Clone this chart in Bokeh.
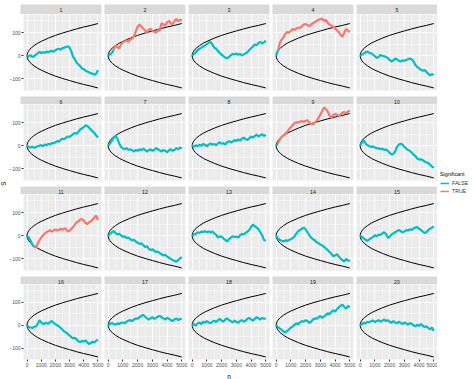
from bokeh.plotting import figure
from bokeh.layouts import row, column
from bokeh.models import Range1d, LinearAxis, Grid, FixedTicker, Legend, LegendItem
from bokeh.core.properties import value
from bokeh.embed import file_html
from bokeh.resources import INLINE
import math

# ---------------- data ----------------
panel_labels = ["1", "2", "3", "4", "5", "6", "7", "8", "9", "10",
                "11", "12", "13", "14", "15", "16", "17", "18", "19", "20"]

n_vals = list(range(0, 5001, 125))

walk_01 = [0, -3, 2, -5, -2, 5, 10, 17, 12, 15, 13, 18, 14, 20, 21, 17, 24, 28, 30, 26, 33,
           35, 38, 41, 35, 18, -5, -15, -30, -38, -45, -55, -58, -65, -68, -72, -75, -78, -82, -78, -62]
walk_02 = [0, 5, 12, 25, 45, 38, 32, 50, 58, 62, 66, 60, 70, 74, 85, 105, 125, 135, 125, 118, 110,
           102, 112, 116, 108, 104, 100, 110, 108, 140, 135, 130, 145, 150, 140, 136, 150, 158, 150, 155, 152]
walk_03 = [0, 8, 15, 25, 30, 35, 40, 45, 50, 56, 60, 48, 35, 30, 20, 12, 5, -2, -8, -12, -5,
           2, 8, 5, 10, 4, 8, 2, 5, 10, 15, 25, 32, 40, 48, 45, 55, 60, 52, 58, 65]
walk_04 = [0, 25, 55, 70, 80, 95, 102, 100, 108, 115, 112, 118, 122, 120, 128, 135, 137, 132, 128, 135, 140,
           145, 150, 155, 158, 160, 150, 155, 142, 135, 130, 125, 118, 110, 102, 90, 82, 100, 115, 108, 102]
walk_05 = [0, 5, 10, 15, 18, 12, 10, 5, -2, -10, -5, 3, 0, -2, -5, -10, -18, -25, -20, -12, -15,
           -22, -25, -20, -22, -18, -15, -12, -15, -25, -40, -48, -55, -60, -65, -62, -70, -78, -85, -80, -82]
walk_06 = [0, -5, -8, -3, -10, -5, -2, 0, 3, -2, 5, 2, 8, 5, 12, 10, 15, 20, 18, 25, 30,
           28, 35, 40, 38, 45, 50, 55, 52, 60, 70, 75, 80, 88, 85, 78, 70, 62, 55, 45, 35]
walk_07 = [0, 10, 22, 35, 42, 30, 10, -5, -12, -15, -10, -18, -15, -20, -25, -18, -22, -15, -20, -12, -18,
           -25, -20, -15, -22, -18, -10, -15, -20, -25, -18, -22, -28, -20, -15, -22, -18, -10, -15, -8, -12]
walk_08 = [0, -5, 2, -3, 5, 0, 8, 3, -2, 5, 10, 4, 8, 2, 10, 15, 8, 12, 5, 15, 20,
           14, 18, 25, 20, 28, 22, 30, 35, 28, 25, 32, 40, 35, 42, 48, 40, 45, 50, 42, 48]
walk_09 = [0, 12, 28, 38, 45, 52, 60, 72, 80, 90, 98, 102, 100, 104, 106, 103, 108, 110, 100, 95, 92,
           100, 108, 120, 135, 150, 165, 158, 148, 130, 122, 132, 138, 134, 128, 135, 142, 145, 140, 148, 152]
walk_10 = [0, 15, 22, 10, 2, -2, -5, -3, -8, -12, -10, -15, -12, -18, -16, -22, -30, -38, -35, -25, -5,
           5, 8, 5, -5, -12, -18, -22, -30, -38, -45, -55, -60, -58, -62, -68, -72, -75, -82, -90, -95]
walk_11 = [0, -8, -22, -38, -48, -50, -35, -20, -8, 2, 10, 15, 20, 24, 18, 22, 28, 22, 26, 30, 25,
           32, 28, 18, 22, 30, 38, 48, 58, 62, 70, 72, 65, 55, 50, 58, 62, 70, 78, 88, 68]
walk_12 = [0, 8, 15, 20, 12, 5, 8, 2, -5, -2, -10, -8, -15, -20, -18, -25, -30, -35, -32, -40, -48,
           -45, -55, -62, -58, -65, -70, -68, -75, -80, -85, -82, -90, -95, -100, -105, -108, -112, -105, -98, -92]
walk_13 = [0, 5, 8, 15, 12, 18, 16, 20, 15, 18, 14, 18, 10, 5, -8, -2, -5, -12, -18, -25, -15,
           -8, -2, -6, -3, -8, 2, 8, 5, 12, 18, 25, 38, 48, 42, 35, 28, 15, 2, -18, -22]
walk_14 = [0, -12, -18, -22, -25, -20, -22, -18, -15, -10, -2, 10, 20, 25, 30, 35, 28, 15, 2, -8, -15,
           -20, -28, -32, -38, -42, -48, -55, -62, -70, -78, -88, -85, -80, -90, -98, -105, -112, -100, -106, -110]
walk_15 = [0, -5, -12, -18, -22, -15, -10, -5, 2, -3, 5, 3, 10, 15, 8, -8, -5, 5, 10, 15, 20,
           25, 20, 15, 18, 25, 22, 28, 25, 32, 35, 38, 30, 25, 18, 12, 15, 25, 30, 35, 40]
walk_16 = [0, -8, -10, -12, -8, -5, 5, 22, 12, 5, 8, 10, 6, 14, 18, 10, 5, 0, -5, -12, -20,
           -28, -32, -38, -45, -52, -58, -55, -62, -70, -74, -68, -72, -66, -75, -82, -78, -72, -76, -68, -64]
walk_17 = [0, 5, 10, 5, 2, 8, 5, 10, 12, 8, 15, 20, 22, 18, 25, 30, 28, 35, 40, 45, 38,
           30, 25, 30, 35, 28, 32, 38, 40, 35, 30, 25, 32, 28, 22, 18, 25, 30, 22, 28, 25]
walk_18 = [0, 5, -2, 8, 12, 5, 15, 10, 18, 12, 8, 15, 20, 14, 22, 28, 20, 15, 25, 30, 22,
           18, 12, 20, 15, 10, 18, 22, 15, 20, 28, 32, 25, 20, 28, 35, 30, 25, 32, 28, 30]
walk_19 = [0, -8, -15, -20, -28, -32, -25, -18, -10, -5, 2, 8, 5, 12, 18, 15, 22, 18, 10, 15, 25,
           30, 28, 35, 40, 32, 38, 45, 52, 48, 58, 65, 60, 70, 78, 85, 90, 80, 72, 85, 78]
walk_20 = [0, 5, 10, 8, 15, 12, 18, 20, 14, 18, 22, 15, 20, 25, 18, 22, 15, 10, 18, 12, 8,
           15, 10, 5, 12, 8, 2, 10, 5, 0, -5, 2, -3, 5, -2, -8, -5, -12, -18, -10, -25]

walks = [walk_01, walk_02, walk_03, walk_04, walk_05, walk_06, walk_07, walk_08, walk_09, walk_10,
         walk_11, walk_12, walk_13, walk_14, walk_15, walk_16, walk_17, walk_18, walk_19, walk_20]

# index of the first point flagged Significant == TRUE (None: never)
sig_start = [None, 3, None, 1, None, None, None, None, 1, None,
             4, None, None, None, None, None, None, None, None, None]

bound_n = [0, 10, 50, 100, 200, 300, 500, 750, 1000, 1500, 2000, 2500, 3000, 3500, 4000, 4500, 5000]
bound_s = [0, 6, 14, 20, 28, 34, 44, 54, 62, 76, 88, 98, 107, 116, 124, 131, 139]
bound_lo = [-v for v in bound_s]

x_ticks = [0, 1000, 2000, 3000, 4000, 5000]
x_minor = [500, 1500, 2500, 3500, 4500]
y_ticks = [-100, 0, 100]
y_minor = [-150, -50, 50, 150]

legend_labels = ["FALSE", "TRUE"]

# ---------------- styling ----------------
TEAL = "#00BFC4"
RED = "#F8766D"
FONT = "Liberation Sans"
FW, FH = 81, 76
STRIP = 10
GAPX, GAPY = 3, 4
TOP = 4
YAX, XAX = 14, 9
S_W, N_H, LEG_W = 6, 10, 37

xr = Range1d(-250, 5250)
yr = Range1d(-150, 178)


def base(w, h, **kw):
    return figure(width=w, height=h, output_backend="svg", toolbar_location=None,
                  x_axis_type=None, y_axis_type=None, min_border=0,
                  outline_line_color=None, border_fill_color="white", **kw)


def make_strip(i, r, c):
    left = YAX if c == 0 else 0
    right = GAPX if c < 4 else 0
    top = TOP if r == 0 else 0
    p = base(left + FW + right, STRIP + top, x_range=Range1d(0, 1), y_range=Range1d(0, 1),
             min_border_left=left, min_border_right=right, min_border_top=top, min_border_bottom=0,
             background_fill_color="#D9D9D9")
    p.text(x=[0.5], y=[0.5], text=[panel_labels[i]], text_align="center", text_baseline="middle",
           text_font=value(FONT), text_font_size="5.2px", text_color="#1A1A1A")
    return p


def make_panel(i, r, c):
    left = YAX if c == 0 else 0
    right = GAPX if c < 4 else 0
    bottom = XAX if r == 3 else GAPY
    p = base(left + FW + right, FH + bottom, x_range=xr, y_range=yr,
             min_border_left=left, min_border_right=right, min_border_top=0, min_border_bottom=bottom,
             background_fill_color="#EBEBEB")
    p.add_layout(Grid(dimension=0, ticker=FixedTicker(ticks=x_ticks, minor_ticks=x_minor),
                      grid_line_color="white", grid_line_width=0.9,
                      minor_grid_line_color="white", minor_grid_line_width=0.45))
    p.add_layout(Grid(dimension=1, ticker=FixedTicker(ticks=y_ticks, minor_ticks=y_minor),
                      grid_line_color="white", grid_line_width=0.9,
                      minor_grid_line_color="white", minor_grid_line_width=0.45))
    axis_kw = dict(axis_line_color=None, major_tick_line_color="#333333", major_tick_out=2,
                   major_tick_in=0, minor_tick_line_color=None, major_label_standoff=1,
                   major_label_text_font=FONT, major_label_text_font_size="5px",
                   major_label_text_color="#4D4D4D")
    if r == 3:
        p.add_layout(LinearAxis(ticker=FixedTicker(ticks=x_ticks), **axis_kw), "below")
    if c == 0:
        p.add_layout(LinearAxis(ticker=FixedTicker(ticks=y_ticks), **axis_kw), "left")

    p.line(bound_n, bound_s, line_color="black", line_width=1)
    p.line(bound_n, bound_lo, line_color="black", line_width=1)

    w = walks[i]
    k = sig_start[i]
    if k is None:
        p.line(n_vals, w, line_color=TEAL, line_width=2.2)
    else:
        p.line(n_vals[:k + 1], w[:k + 1], line_color=TEAL, line_width=2.2)
        p.line(n_vals[k:], w[k:], line_color=RED, line_width=2.2)
    return p


rows = []
for r in range(4):
    rows.append(row([make_strip(r * 5 + c, r, c) for c in range(5)], spacing=0))
    rows.append(row([make_panel(r * 5 + c, r, c) for c in range(5)], spacing=0))

grid_w = YAX + 5 * FW + 4 * GAPX
n_fig = base(grid_w, N_H, x_range=Range1d(0, 1), y_range=Range1d(0, 1),
             min_border_left=YAX, background_fill_color="white")
n_fig.text(x=[0.5], y=[0.55], text=["n"], text_align="center", text_baseline="middle",
           text_font=value(FONT), text_font_size="6.5px", text_color="black")
rows.append(n_fig)
grid = column(rows, spacing=0)

total_h = TOP + 4 * (STRIP + FH) + 3 * GAPY + XAX + N_H

s_fig = base(S_W, total_h, x_range=Range1d(0, 1), y_range=Range1d(0, 1),
             min_border_top=TOP, min_border_bottom=XAX + N_H, background_fill_color="white")
s_fig.text(x=[0.5], y=[0.5], text=["S"], angle=math.pi / 2, text_align="center",
           text_baseline="middle", text_font=value(FONT), text_font_size="6.5px", text_color="black")

# legend panel: one-point (invisible) lines only to carry the legend glyphs
lp = base(LEG_W, total_h, x_range=Range1d(0, 1), y_range=Range1d(0, 1),
          min_border_top=6, background_fill_color="white")
r_false = lp.line(x=n_vals[:1], y=walk_01[:1], line_color=TEAL, line_width=1.5)
r_true = lp.line(x=n_vals[:1], y=walk_02[:1], line_color=RED, line_width=1.5)
legend = Legend(items=[LegendItem(label=legend_labels[0], renderers=[r_false]),
                       LegendItem(label=legend_labels[1], renderers=[r_true])],
                title="Significant", location="center_left",
                title_text_font=FONT, title_text_font_size="5.3px", title_text_font_style="normal",
                title_text_color="black", title_standoff=2,
                label_text_font=FONT, label_text_font_size="5.2px", label_text_color="#333333",
                glyph_width=9, glyph_height=8, label_height=8, label_standoff=3,
                spacing=0, padding=0, margin=3,
                border_line_color=None, background_fill_alpha=0)
lp.add_layout(legend, "center")

layout = row([s_fig, grid, lp], spacing=0)

open("out.html", "w").write(file_html(layout, INLINE))
